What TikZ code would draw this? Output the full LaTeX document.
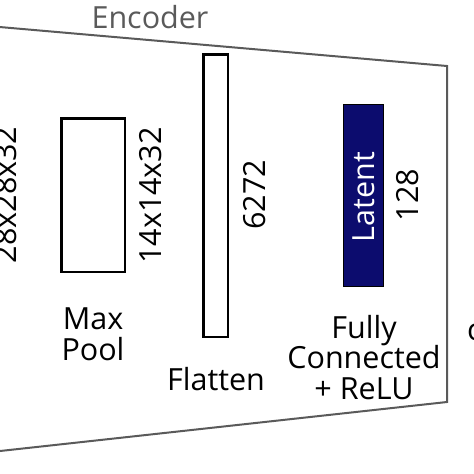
\documentclass[tikz,border=0pt]{standalone}
\usepackage{fontspec}
\setmainfont{Open Sans}
\definecolor{latentblue}{RGB}{12,12,110}
\definecolor{framegray}{RGB}{90,90,90}

\begin{document}
\begin{tikzpicture}[
    x=1pt, y=-1pt,
    layer/.style={rectangle, draw=black, line width=2.5pt, fill=white, inner sep=0pt},
    dims/.style={rotate=90, inner sep=0pt, font=\fontsize{30.5}{30.5}\selectfont},
    caption/.style={align=center, inner sep=0pt, font=\fontsize{30.5}{30.5}\selectfont},
    frame/.style={draw=framegray, line width=2pt, line join=miter}
]
    \useasboundingbox (0,0) rectangle (474,474);
    \coordinate (tl) at (-20,25.3);
    \coordinate (tr) at (447,66);
    \coordinate (br) at (447,402);
    \coordinate (bl) at (-20,453.2);
    \draw[frame] (tl) -- (tr) -- (br) -- (bl);
    \node[caption, text=framegray, anchor=base] (enc) at (150,28) {Encoder};
    \node[layer, minimum width=63.5pt, minimum height=153.5pt] (pool) at (93,195) {};
    \node[layer, minimum width=24.5pt, minimum height=282.5pt] (flat) at (215.5,195.5) {};
    \node[layer, fill=latentblue, line width=1pt, minimum width=40pt, minimum height=182pt] (latent) at (363.5,195.5) {};
    \node[dims] (insize) at (6,195) {28x28x32};
    \node[dims] (poolsize) at (151,195.5) {14x14x32};
    \node[dims] (flatsize) at (254.5,195) {6272};
    \node[dims] (fcsize) at (407.5,195) {128};
    \node[dims, text=white] (latentname) at (363.5,197) {Latent};
    \node[caption, anchor=base] (poolname) at (93,360) {Max\\Pool};
    \node[caption, anchor=base] (flatname) at (216,390) {Flatten};
    \node[caption, anchor=base] (fcname) at (364,399) {Fully\\Connected\\+ ReLU};
    \node[caption, anchor=base west] (next) at (467,340) {c};
\end{tikzpicture}
\end{document}
